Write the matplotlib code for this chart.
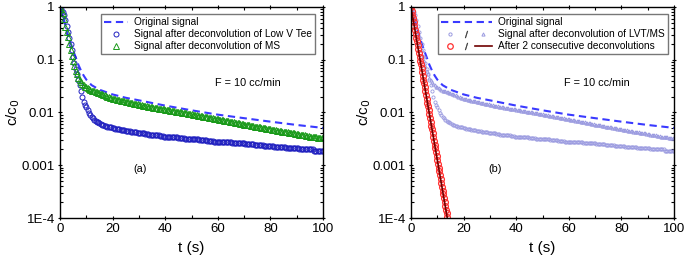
import numpy as np
import matplotlib
matplotlib.use("Agg")
import matplotlib.pyplot as plt
from matplotlib.lines import Line2D
from matplotlib.legend_handler import HandlerTuple

plt.rcParams["font.family"] = ["Liberation Sans", "DejaVu Sans"]

# time grid of the deconvolved signals (0.5 s steps, 0..100 s)
t = np.arange(0, 100.5, 0.5)

low_v_tee = [
    1.0, 0.93, 0.82, 0.69, 0.56, 0.44, 0.34, 0.26, 0.20, 0.15,
    0.115, 0.088, 0.068, 0.053, 0.042, 0.033, 0.026, 0.020, 0.016, 0.014,
    0.0125, 0.011, 0.0098, 0.0090, 0.0083, 0.0078, 0.0073, 0.0070, 0.0067, 0.0065,
    0.0063, 0.0061, 0.0059, 0.0057, 0.0056, 0.0055, 0.0054, 0.0053, 0.0052, 0.0052,
    0.0051, 0.0050, 0.0049, 0.0049, 0.0048, 0.0048, 0.0047, 0.0047, 0.0046, 0.0046,
    0.0045, 0.0045, 0.0044, 0.0044, 0.0043, 0.0043, 0.0042, 0.0042, 0.0042, 0.0041,
    0.0041, 0.0041, 0.0040, 0.0040, 0.0040, 0.0039, 0.0039, 0.0039, 0.0038, 0.0038,
    0.0038, 0.0038, 0.0037, 0.0037, 0.0037, 0.0037, 0.0036, 0.0036, 0.0036, 0.0035,
    0.0035, 0.0035, 0.0035, 0.0035, 0.0034, 0.0034, 0.0034, 0.0034, 0.0034, 0.0034,
    0.0033, 0.0033, 0.0033, 0.0033, 0.0033, 0.0032, 0.0032, 0.0032, 0.0032, 0.0032,
    0.0032, 0.0031, 0.0031, 0.0031, 0.0031, 0.0031, 0.0030, 0.0030, 0.0030, 0.0030,
    0.0030, 0.0030, 0.0029, 0.0029, 0.0029, 0.0029, 0.0029, 0.0028, 0.0028, 0.0028,
    0.0028, 0.0028, 0.0028, 0.0028, 0.0027, 0.0027, 0.0027, 0.0027, 0.0027, 0.0027,
    0.0027, 0.0026, 0.0026, 0.0026, 0.0026, 0.0026, 0.0026, 0.0026, 0.0026, 0.0026,
    0.0026, 0.0025, 0.0025, 0.0025, 0.0025, 0.0025, 0.0025, 0.0025, 0.0024, 0.0024,
    0.0024, 0.0024, 0.0024, 0.0024, 0.0024, 0.0023, 0.0023, 0.0023, 0.0023, 0.0023,
    0.0023, 0.0023, 0.0023, 0.0022, 0.0022, 0.0022, 0.0022, 0.0022, 0.0022, 0.0022,
    0.0022, 0.0022, 0.0021, 0.0021, 0.0021, 0.0021, 0.0021, 0.0021, 0.0021, 0.0021,
    0.0021, 0.0021, 0.0020, 0.0020, 0.0020, 0.0020, 0.0020, 0.0020, 0.0020, 0.0020,
    0.0020, 0.0020, 0.0020, 0.0019, 0.0019, 0.0019, 0.0019, 0.0019, 0.0019, 0.0019,
    0.0019,
]

ms = [
    1.0, 0.92, 0.78, 0.58, 0.42, 0.33, 0.27, 0.20, 0.15, 0.12,
    0.093, 0.075, 0.062, 0.053, 0.046, 0.041, 0.038, 0.035, 0.033, 0.031,
    0.030, 0.029, 0.028, 0.027, 0.026, 0.0255, 0.025, 0.0245, 0.024, 0.0235,
    0.023, 0.0225, 0.022, 0.0215, 0.021, 0.0205, 0.020, 0.0195, 0.0190, 0.0187,
    0.0183, 0.0180, 0.0178, 0.0175, 0.0173, 0.0170, 0.0168, 0.0166, 0.0164, 0.0162,
    0.0160, 0.0158, 0.0156, 0.0154, 0.0152, 0.0150, 0.0148, 0.0146, 0.0144, 0.0142,
    0.0140, 0.0138, 0.0137, 0.0135, 0.0134, 0.0132, 0.0131, 0.0129, 0.0128, 0.0126,
    0.0125, 0.0124, 0.0123, 0.0121, 0.0120, 0.0119, 0.0118, 0.0116, 0.0115, 0.0114,
    0.0113, 0.0112, 0.0111, 0.0110, 0.0109, 0.0107, 0.0106, 0.0105, 0.0104, 0.0103,
    0.0102, 0.0101, 0.0100, 0.0099, 0.0098, 0.0097, 0.0096, 0.0095, 0.0094, 0.0093,
    0.0092, 0.0091, 0.0090, 0.0089, 0.0088, 0.0087, 0.0086, 0.0085, 0.0084, 0.0083,
    0.0082, 0.0081, 0.0081, 0.0080, 0.0079, 0.0078, 0.0077, 0.0076, 0.0076, 0.0075,
    0.0074, 0.0073, 0.0072, 0.0071, 0.0071, 0.0070, 0.0069, 0.0068, 0.0068, 0.0067,
    0.0066, 0.0065, 0.0065, 0.0064, 0.0063, 0.0062, 0.0062, 0.0061, 0.0061, 0.0060,
    0.0059, 0.0058, 0.0058, 0.0057, 0.0057, 0.0056, 0.0055, 0.0055, 0.0054, 0.0053,
    0.0053, 0.0052, 0.0052, 0.0051, 0.0051, 0.0050, 0.0050, 0.0049, 0.0049, 0.0048,
    0.0048, 0.0047, 0.0047, 0.0046, 0.0046, 0.0045, 0.0045, 0.0044, 0.0044, 0.0043,
    0.0043, 0.0043, 0.0042, 0.0042, 0.0041, 0.0041, 0.0040, 0.0040, 0.0040, 0.0039,
    0.0039, 0.0039, 0.0038, 0.0038, 0.0037, 0.0037, 0.0037, 0.0036, 0.0036, 0.0036,
    0.0035, 0.0035, 0.0035, 0.0034, 0.0034, 0.0034, 0.0033, 0.0033, 0.0033, 0.0033,
    0.0033,
]

# original signal (dashed line)
t_orig = [0, 1, 2, 3, 4, 5, 6, 7, 8, 9, 10, 12, 15, 20, 25, 30, 40, 50, 60, 70, 80, 90, 100]
orig = [1.0, 0.75, 0.45, 0.30, 0.21, 0.15, 0.11, 0.08, 0.062, 0.05, 0.042, 0.033, 0.027,
        0.022, 0.019, 0.017, 0.0135, 0.011, 0.0091, 0.0078, 0.0067, 0.0058, 0.0051]

# after 2 consecutive deconvolutions (0.25 s steps)
t_two = np.arange(0, 14.75, 0.25)
two = [1.0, 0.846, 0.716, 0.606, 0.513, 0.434, 0.367, 0.311, 0.263, 0.223,
       0.188, 0.159, 0.135, 0.114, 0.0966, 0.0817, 0.0692, 0.0585, 0.0495, 0.0419,
       0.0355, 0.0300, 0.0254, 0.0215, 0.0182, 0.0154, 0.0130, 0.0110, 0.00933, 0.00790,
       0.00668, 0.00565, 0.00479, 0.00405, 0.00343, 0.00290, 0.00245, 0.00208, 0.00176, 0.00149,
       0.00126, 0.00107, 0.000902, 0.000763, 0.000646, 0.000547, 0.000463, 0.000391, 0.000331, 0.000280,
       0.000237, 0.000201, 0.000170, 0.000144, 0.000122, 0.000103, 0.0000871, 0.0000737, 0.0000624]

fig = plt.figure(figsize=(6.85, 2.58), dpi=100)
ax1 = fig.add_axes([0.0876, 0.155, 0.384, 0.818])
ax2 = fig.add_axes([0.600, 0.155, 0.384, 0.818])

blue_dash = "#3a3aff"
dash = (3.5, 2.2)

# panel (a)
ax1.plot(t_orig, orig, "--", color=blue_dash, lw=1.5, dashes=dash, label="Original signal")
ax1.plot(t, low_v_tee, "o", ms=3.6, mfc="none", mec="#2020c0", mew=0.7,
         label="Signal after deconvolution of Low V Tee")
ax1.plot(t, ms, "^", ms=3.8, mfc="none", mec="#1a9a1a", mew=0.7,
         label="Signal after deconvolution of MS")
ax1.legend(loc="upper left", bbox_to_anchor=(0.135, 0.99), fontsize=7.3, frameon=True,
           fancybox=False, edgecolor="#555555", handlelength=2.4, borderpad=0.3,
           labelspacing=0.2, handletextpad=0.6)
ax1.text(59, 0.036, "F = 10 cc/min", fontsize=7.8, ha="left", va="center")
ax1.text(30.5, 0.00085, "(a)", fontsize=7.8, ha="center", va="center")

# panel (b)
pale = "#9a9ae0"
ax2.plot(t_orig, orig, "--", color=blue_dash, lw=1.5, dashes=dash)
ax2.plot(t, low_v_tee, "o", ms=2.3, mfc="none", mec=pale, mew=0.6)
ax2.plot(t, ms, "^", ms=2.3, mfc="none", mec=pale, mew=0.6)
ax2.plot(t_two, two, "o", ms=4.2, mfc="none", mec="#ff3030", mew=0.9)
ax2.plot(t_two, two, "-", color="#700000", lw=1.2)

h_orig = Line2D([], [], ls="--", color=blue_dash, lw=1.5, dashes=dash)
h_c = Line2D([], [], ls="none", marker="o", ms=2.3, mfc="none", mec=pale, mew=0.7)
h_s = Line2D([], [], ls="none", marker="$/$", ms=5, color="#333333", mew=0.3)
h_t = Line2D([], [], ls="none", marker="^", ms=2.3, mfc="none", mec=pale, mew=0.7)
h_r = Line2D([], [], ls="none", marker="o", ms=4, mfc="none", mec="#ff3030", mew=0.9)
h_l = Line2D([], [], ls="-", color="#700000", lw=1.2)
ax2.legend([h_orig, (h_c, h_s, h_t), (h_r, h_s, h_l)],
           ["Original signal", "Signal after deconvolution of LVT/MS",
            "After 2 consecutive deconvolutions"],
           handler_map={tuple: HandlerTuple(ndivide=None, pad=0.0)},
           loc="upper right", bbox_to_anchor=(0.995, 0.99), fontsize=7.3, frameon=True,
           fancybox=False, edgecolor="#555555", handlelength=5.0, borderpad=0.3,
           labelspacing=0.2, handletextpad=0.6)
ax2.text(58, 0.036, "F = 10 cc/min", fontsize=7.8, ha="left", va="center")
ax2.text(32, 0.00085, "(b)", fontsize=7.8, ha="center", va="center")

for ax in (ax1, ax2):
    ax.set_yscale("log")
    ax.set_xlim(0, 100)
    ax.set_ylim(1e-4, 1)
    ax.set_xticks([0, 20, 40, 60, 80, 100])
    ax.set_xticks([10, 30, 50, 70, 90], minor=True)
    ax.set_yticks([1e-4, 1e-3, 1e-2, 1e-1, 1])
    ax.set_yticklabels(["1E-4", "0.001", "0.01", "0.1", "1"])
    ax.tick_params(which="both", top=True, right=True, labelsize=9.5, width=0.8, pad=2)
    ax.tick_params(which="major", length=3.5)
    ax.tick_params(which="minor", length=2)
    ax.tick_params(axis="both", which="both", direction="in")
    ax.tick_params(axis="x", which="major", direction="inout")
    ax.tick_params(axis="y", which="major", direction="inout")
    for s in ax.spines.values():
        s.set_linewidth(1.0)
    ax.set_xlabel("t (s)", fontsize=11, labelpad=4)
    ax.set_ylabel("c/c$_0$", fontsize=11, labelpad=0)

fig.savefig("out.png", dpi=100)
